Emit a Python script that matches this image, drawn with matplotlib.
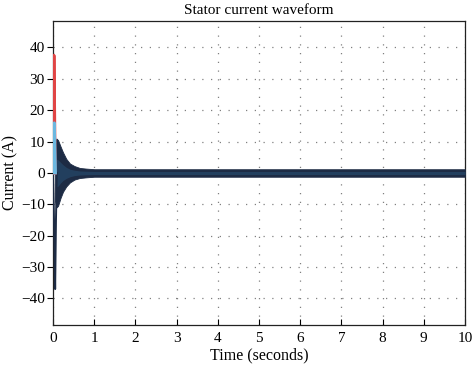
import matplotlib
matplotlib.use("Agg")
import matplotlib.pyplot as plt
import numpy as np

# Envelope of the dense steady oscillation band
env_t = [0.05, 0.08, 0.12, 0.18, 0.24, 0.32, 0.41, 0.52, 0.65, 0.8, 1.0, 2.0, 5.0, 10.0]
env_upper = [9.0, 11.0, 10.5, 8.5, 6.6, 4.5, 3.0, 2.2, 1.6, 1.4, 1.2, 1.2, 1.2, 1.2]
env_lower = [-9.0, -11.0, -10.5, -8.0, -6.0, -4.3, -3.0, -2.1, -1.6, -1.4, -1.2, -1.2, -1.2, -1.2]

# Initial transient spikes for each phase
red_t = [0.0, 0.02, 0.035, 0.05]
red_i = [0.0, 37.5, 20.0, 0.0]
blue_t = [0.0, 0.03, 0.045, 0.06]
blue_i = [0.0, 16.0, 9.0, 0.0]
dark_t = [0.0, 0.03, 0.05, 0.07, 0.09]
dark_i = [0.0, -20.0, -37.0, -15.0, 0.0]

xticks = list(range(0, 11))
yticks = [-40, -30, -20, -10, 0, 10, 20, 30, 40]

plt.rcParams['font.family'] = ['Liberation Serif', 'DejaVu Serif']

fig = plt.figure(figsize=(4.74, 3.72), dpi=100)
ax = fig.add_axes([0.112, 0.126, 0.869, 0.818])

ax.fill_between(env_t, env_lower, env_upper, color='#1d2b44', lw=0.6, zorder=3)
ax.fill_between(env_t, np.array(env_lower) * 0.4, np.array(env_upper) * 0.4,
                color='#2c5f86', lw=0, zorder=3, alpha=0.4)
ax.plot(dark_t, dark_i, color='#1d2b44', lw=1.4, zorder=4)
ax.plot(red_t, red_i, color='#e04545', lw=2.2, zorder=5)
ax.plot(blue_t, blue_i, color='#6cb8e0', lw=2.0, zorder=6)

ax.set_xlim(0, 10)
ax.set_ylim(-48.5, 48.5)
ax.set_xticks(xticks)
ax.set_yticks(yticks)
ax.grid(True, color='#808080', linestyle=(0, (1, 6)), lw=0.9)
ax.tick_params(axis='x', direction='in', length=4, labelsize=11, pad=5)
ax.tick_params(axis='y', direction='out', length=4, labelsize=11, pad=2)
for s in ax.spines.values():
    s.set_linewidth(0.9)
    s.set_color('#222222')

ax.set_title('Stator current waveform', fontsize=11, pad=5)
ax.set_xlabel('Time (seconds)', fontsize=11.5, labelpad=2)
ax.set_ylabel('Current (A)', fontsize=11.5, labelpad=2)

fig.savefig('out.png', dpi=100)
